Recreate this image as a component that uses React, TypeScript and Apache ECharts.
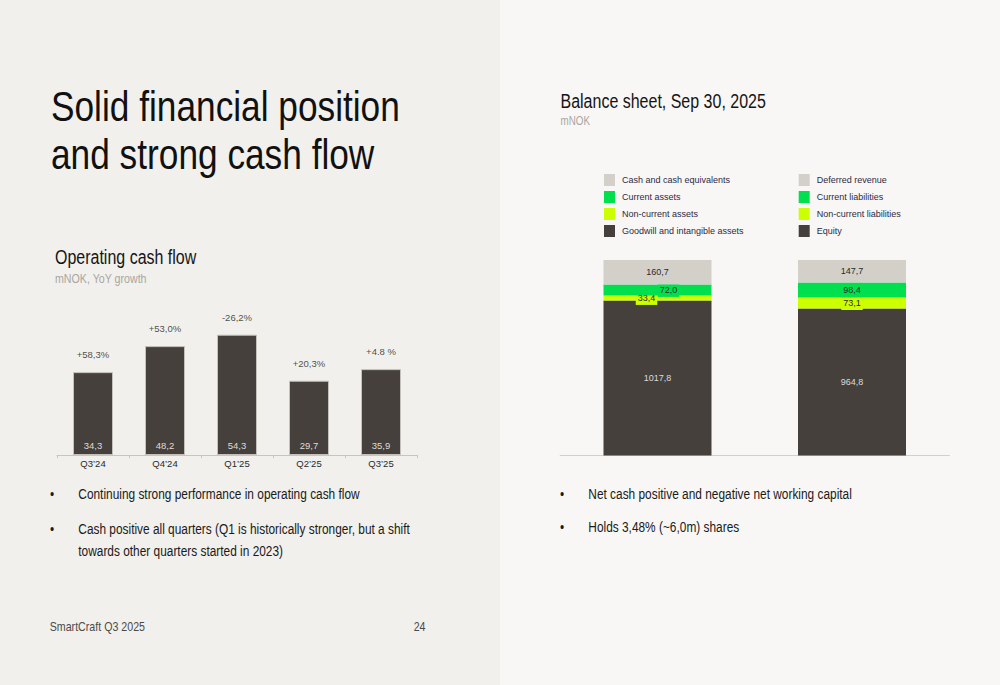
import React, { useEffect, useRef } from "react";
import * as echarts from "echarts";

// ---------- data ----------
const quarters = ["Q3’24", "Q4’24", "Q1’25", "Q2’25", "Q3’25"];
const cashFlow = [34.3, 48.2, 54.3, 29.7, 35.9];
const growth = ["+58,3%", "+53,0%", "-26,2%", "+20,3%", "+4.8 %"];

const balanceCats = ["Assets", "Liabilities and equity"];
// bottom -> top
const assetNames = ["Goodwill and intangible assets", "Non-current assets", "Current assets", "Cash and cash equivalents"];
const assetValues = [1017.8, 33.4, 72.0, 160.7];
const liabNames = ["Equity", "Non-current liabilities", "Current liabilities", "Deferred revenue"];
const liabValues = [964.8, 73.1, 98.4, 147.7];
const segColors = ["#45403c", "#ccff00", "#00e04f", "#d3d0ca"];

const SANS = "'Liberation Sans', Arial, sans-serif";
const SX = 0.82;
const LBL = 9;

const fmt = (v: number) => v.toFixed(1).replace(".", ",");

function txt(text: string, x: number, baseline: number, size: number, color: string, align: string = "left") {
  return {
    type: "text",
    x,
    y: baseline - size * 0.33,
    scaleX: SX,
    z: 10,
    style: {
      text,
      fontSize: size,
      fontFamily: SANS,
      fill: color,
      align,
      verticalAlign: "middle",
    },
  };
}

export default function App() {
  const ref = useRef<HTMLDivElement>(null);

  useEffect(() => {
    if (!ref.current) return;
    const chart = echarts.init(ref.current, null, { renderer: "svg" });

    const segLabel = (idx: number, side: "a" | "l") => {
      const base: any = {
        show: true,
        position: "inside",
        fontSize: LBL,
        fontFamily: SANS,
        color: idx === 0 ? "#dedbd6" : "#2a2a2a",
        formatter: (p: any) => fmt(p.value),
      };
      if (idx === 1 || idx === 2) {
        base.backgroundColor = segColors[idx];
        base.padding = [3, 2, 2, 2];
        if (side === "a") base.offset = [idx === 1 ? -11 : 11, 0];
      }
      return base;
    };

    const balanceSeries: any[] = [];
    assetNames.forEach((name, i) => {
      balanceSeries.push({
        name,
        type: "bar",
        xAxisIndex: 1,
        yAxisIndex: 1,
        stack: "bs",
        barWidth: 108,
        data: [assetValues[i], "-"],
        itemStyle: { color: segColors[i] },
        label: segLabel(i, "a"),
        z: 2 + i,
      });
    });
    liabNames.forEach((name, i) => {
      balanceSeries.push({
        name,
        type: "bar",
        xAxisIndex: 1,
        yAxisIndex: 1,
        stack: "bs",
        barWidth: 108,
        data: ["-", liabValues[i]],
        itemStyle: { color: segColors[i] },
        label: segLabel(i, "l"),
        z: 2 + i,
      });
    });

    const legendBase = {
      orient: "vertical",
      top: 174,
      padding: 0,
      itemWidth: 11,
      itemHeight: 12,
      itemGap: 5,
      icon: "rect",
      selectedMode: false,
      textStyle: { color: "#2d2a44", fontSize: LBL, fontFamily: SANS, padding: [0, 0, 0, 2] },
    };

    chart.setOption({
      animation: false,
      backgroundColor: "#f8f7f5",
      textStyle: { fontFamily: SANS },
      graphic: {
        elements: [
          { type: "rect", shape: { x: 0, y: 0, width: 500, height: 685 }, style: { fill: "#f1f0ec" }, z: -10 },
          txt("Solid financial position", 51, 119.5, 43, "#111111"),
          txt("and strong cash flow", 51, 167.5, 43, "#111111"),
          txt("Operating cash flow", 55, 264, 19.5, "#151515"),
          txt("mNOK, YoY growth", 55, 282.5, 13, "#a9a6a1"),
          txt("Balance sheet, Sep 30, 2025", 560.5, 108.3, 19.5, "#151515"),
          txt("mNOK", 560.5, 125, 12, "#a9a6a1"),
          txt("•", 50, 499.3, 14.5, "#1a1a1a"),
          txt("Continuing strong performance in operating cash flow", 78.3, 499.3, 14.5, "#1a1a1a"),
          txt("•", 50, 534, 14.5, "#1a1a1a"),
          txt("Cash positive all quarters (Q1 is historically stronger, but a shift", 78.3, 534, 14.5, "#1a1a1a"),
          txt("towards other quarters started in 2023)", 78.3, 555.5, 14.5, "#1a1a1a"),
          txt("•", 560, 499, 14.5, "#1a1a1a"),
          txt("Net cash positive and negative net working capital", 588.3, 499, 14.5, "#1a1a1a"),
          txt("•", 560, 532, 14.5, "#1a1a1a"),
          txt("Holds 3,48% (~6,0m) shares", 588.3, 532, 14.5, "#1a1a1a"),
          txt("SmartCraft Q3 2025", 49.7, 631, 13, "#4a4a4a"),
          txt("24", 425.5, 631, 13, "#4a4a4a", "right"),
        ],
      },
      legend: [
        { ...legendBase, left: 604, data: [...assetNames].reverse() },
        { ...legendBase, left: 798.7, data: [...liabNames].reverse() },
      ],
      grid: [
        { left: 57, top: 301.6, width: 360, height: 153.4 },
        { left: 560.25, top: 257.5, width: 389, height: 198 },
      ],
      xAxis: [
        {
          type: "category",
          gridIndex: 0,
          data: quarters,
          axisLine: { onZero: false, lineStyle: { color: "#c8c4be", width: 1 } },
          axisTick: { show: true, length: 3, lineStyle: { color: "#c8c4be" } },
          axisLabel: { color: "#2a2a2a", fontSize: 9.5, margin: 3, fontFamily: SANS },
        },
        {
          type: "category",
          gridIndex: 1,
          data: balanceCats,
          axisLine: { onZero: false, lineStyle: { color: "#d3d0cb", width: 1.2 } },
          axisTick: { show: false },
          axisLabel: { show: false },
        },
      ],
      yAxis: [
        { type: "value", gridIndex: 0, min: -10, max: 72, startValue: -10, show: false, splitLine: { show: false } },
        { type: "value", gridIndex: 1, min: 0, max: 1300, show: false, splitLine: { show: false } },
      ],
      series: [
        {
          name: "Operating cash flow",
          type: "bar",
          xAxisIndex: 0,
          yAxisIndex: 0,
          data: cashFlow,
          barWidth: 40,
          itemStyle: { color: "#45403c", borderColor: "#c4c0ba", borderWidth: 1 },
          label: {
            show: true,
            position: "insideBottom",
            distance: 5,
            color: "#dedbd6",
            fontSize: 9.5,
            fontFamily: SANS,
            formatter: (p: any) => fmt(p.value),
          },
        },
        {
          name: "YoY growth",
          type: "scatter",
          xAxisIndex: 0,
          yAxisIndex: 0,
          data: cashFlow,
          symbolSize: 1,
          itemStyle: { color: "rgba(0,0,0,0)" },
          label: {
            show: true,
            position: "top",
            distance: 12,
            color: "#222222",
            fontSize: 9.5,
            fontFamily: SANS,
            formatter: (p: any) => growth[p.dataIndex],
          },
          z: 5,
        },
        ...balanceSeries,
      ],
    });

    return () => chart.dispose();
  }, []);

  return (
    <div
      ref={ref}
      style={{ position: "fixed", left: 0, top: 0, width: 1000, height: 685 }}
    />
  );
}
